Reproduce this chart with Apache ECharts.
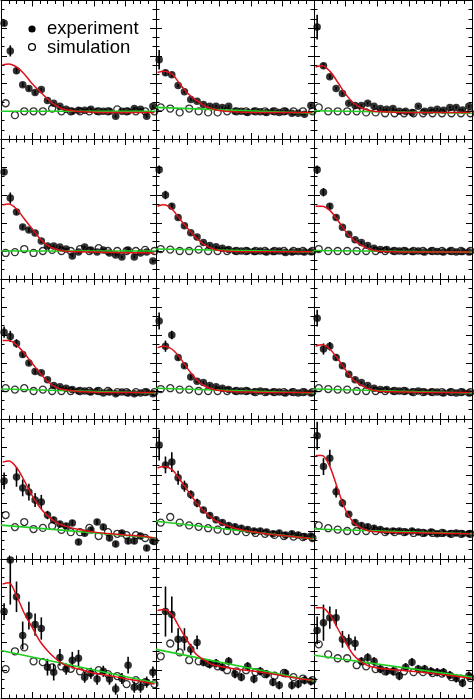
<!DOCTYPE html>
<html><head><meta charset="utf-8">
<script src="https://cdn.jsdelivr.net/npm/echarts@6/dist/echarts.min.js"></script>
<style>html,body{margin:0;padding:0;background:#fff}#c{width:474px;height:699px}</style>
</head><body><div id="c"></div>
<script>
// shared x positions
const expX = [0.1,0.3,0.5,0.7,0.9,1.1,1.3,1.5,1.7,1.9,2.1,2.3,2.5,2.7,2.9,3.1,3.3,3.5,3.7,3.9,4.1,4.3,4.5,4.7,4.9];
const simX = [0.15,0.45,0.75,1.05,1.35,1.65,1.95,2.25,2.55,2.85,3.15,3.45,3.75,4.05,4.35,4.65,4.95];
const fitX = [0.05,0.25,0.5,0.75,1.0,1.25,1.5,1.75,2.0,2.5,3.0,3.5,4.0,4.5,4.95];
const linX = [0,5];

// row 1
const exp_11 = [4.18,3.18,2.46,1.96,1.82,1.68,1.79,1.39,1.29,1.18,1.07,1.0,1.04,1.04,1.07,1.0,1.0,1.0,0.82,1.0,1.0,1.1,1.07,0.82,1.18];
const err_11 = [0.1,0.2,0.1,0.08,0.08,0.08,0.06,0.06,0.05,0.05,0.05,0.05,0.05,0.05,0.05,0.05,0.05,0.05,0.05,0.05,0.05,0.05,0.05,0.05,0.05];
const sim_11 = [1.29,0.86,1.0,1.0,1.0,1.1,1.0,1.0,1.0,1.0,1.0,1.0,1.07,1.0,1.0,1.0,1.0];
const fit_11 = [2.68,2.71,2.6,2.35,2.0,1.72,1.45,1.22,1.08,0.99,0.97,0.96,0.96,0.96,0.96];
const lin_11 = [1.0,1.0];

const exp_12 = [2.86,2.39,2.32,1.93,1.71,1.43,1.36,1.25,1.18,1.18,1.14,1.18,1.0,1.0,0.96,1.0,0.98,0.96,1.0,0.96,1.0,0.93,0.93,0.89,1.21];
const err_12 = [0.35,0.1,0.08,0.06,0.06,0.05,0.05,0.05,0.05,0.05,0.05,0.05,0.05,0.05,0.05,0.05,0.05,0.05,0.05,0.05,0.05,0.05,0.05,0.05,0.05];
const sim_12 = [1.14,1.1,0.96,1.1,1.0,0.96,0.96,1.0,1.0,1.0,1.0,1.0,1.0,1.0,1.0,1.0,1.0];
const fit_12 = [2.4,2.45,2.35,2.0,1.65,1.42,1.22,1.1,1.03,0.98,0.96,0.96,0.96,0.96,0.96];
const lin_12 = [1.14,0.93];

const exp_13 = [4.04,2.64,2.25,1.82,1.64,1.29,1.21,1.21,1.29,1.18,1.1,1.07,1.1,1.0,1.0,0.96,1.18,1.0,1.04,1.07,1.04,1.14,1.14,1.05,1.18];
const err_13 = [0.45,0.1,0.08,0.06,0.06,0.05,0.05,0.05,0.05,0.05,0.05,0.05,0.05,0.05,0.05,0.05,0.05,0.05,0.05,0.05,0.05,0.05,0.05,0.05,0.05];
const sim_13 = [1.14,1.0,1.0,1.0,1.0,0.96,0.96,0.93,0.93,0.93,0.93,0.93,0.93,0.93,0.93,0.93,0.93];
const fit_13 = [2.6,2.64,2.45,2.05,1.62,1.3,1.12,1.03,0.99,0.97,0.96,0.96,0.96,0.96,0.96];
const lin_13 = [1.02,0.93];

// row 2
const exp_21 = [3.82,2.89,2.39,1.86,1.75,1.64,1.36,1.18,1.18,1.14,1.07,0.82,0.96,1.14,1.04,0.96,1.04,0.93,0.86,0.79,1.04,0.79,0.93,0.96,0.64];
const err_21 = [0.1,0.2,0.1,0.08,0.08,0.06,0.06,0.05,0.05,0.05,0.05,0.05,0.05,0.05,0.05,0.05,0.05,0.05,0.05,0.05,0.05,0.05,0.05,0.05,0.05];
const sim_21 = [0.93,0.96,1.07,0.93,1.0,1.04,1.0,1.0,1.07,1.0,1.1,1.0,1.0,1.0,1.0,1.04,1.0];
const fit_21 = [2.64,2.68,2.5,2.15,1.8,1.45,1.2,1.07,1.0,0.97,0.96,0.95,0.94,0.94,0.93];
const lin_21 = [1.0,1.0];

const exp_22 = [3.9,3.0,2.6,2.2,1.9,1.65,1.5,1.3,1.2,1.15,1.1,1.05,1.0,1.0,1.0,0.98,1.0,0.96,0.98,1.0,0.95,0.96,0.98,0.96,0.97];
const err_22 = [0.15,0.15,0.1,0.08,0.06,0.06,0.05,0.05,0.05,0.05,0.05,0.05,0.05,0.05,0.05,0.05,0.05,0.05,0.05,0.05,0.05,0.05,0.05,0.05,0.05];
const sim_22 = [1.07,1.05,1.0,1.0,1.05,1.0,1.0,1.0,1.0,1.0,1.0,1.0,1.0,1.0,1.0,1.0,1.0];
const fit_22 = [2.6,2.65,2.5,2.15,1.8,1.5,1.25,1.1,1.02,0.98,0.97,0.97,0.97,0.97,0.97];
const lin_22 = [1.07,0.97];

const exp_23 = [3.9,3.1,2.6,2.2,1.85,1.6,1.4,1.3,1.2,1.1,1.05,1.05,1.0,1.0,1.0,0.98,1.0,0.96,1.0,0.98,0.96,1.0,0.96,0.98,0.96];
const err_23 = [0.15,0.15,0.1,0.08,0.06,0.06,0.05,0.05,0.05,0.05,0.05,0.05,0.05,0.05,0.05,0.05,0.05,0.05,0.05,0.05,0.05,0.05,0.05,0.05,0.05];
const sim_23 = [1.07,1.0,1.0,1.0,1.0,1.0,1.0,1.0,1.0,1.0,1.0,1.0,1.0,1.0,1.0,1.0,1.0];
const fit_23 = [2.6,2.6,2.45,2.1,1.7,1.4,1.2,1.07,1.0,0.97,0.96,0.96,0.96,0.96,0.96];
const lin_23 = [1.02,0.96];

// row 3
const exp_31 = [3.1,2.95,2.7,2.3,2.0,1.7,1.65,1.4,1.2,1.15,1.1,1.05,1.0,1.0,0.96,1.0,0.93,0.96,0.9,0.96,0.93,0.9,0.93,0.96,0.9];
const err_31 = [0.2,0.2,0.15,0.1,0.08,0.08,0.06,0.05,0.05,0.05,0.05,0.05,0.05,0.05,0.05,0.05,0.05,0.05,0.05,0.05,0.05,0.05,0.05,0.05,0.05];
const sim_31 = [1.1,1.05,1.1,1.0,1.05,1.0,1.0,1.0,1.0,1.0,1.0,1.0,0.96,0.96,0.96,0.96,0.96];
const fit_31 = [2.8,2.8,2.65,2.35,2.0,1.65,1.35,1.15,1.05,0.98,0.96,0.95,0.95,0.95,0.95];
const lin_31 = [1.07,0.93];

const exp_32 = [3.5,2.6,3.0,2.2,1.9,1.5,1.35,1.3,1.2,1.15,1.1,1.05,1.0,1.0,1.0,0.96,1.0,0.96,0.96,0.96,0.93,0.96,0.93,0.96,0.93];
const err_32 = [0.3,0.2,0.15,0.1,0.08,0.08,0.06,0.05,0.05,0.05,0.05,0.05,0.05,0.05,0.05,0.05,0.05,0.05,0.05,0.05,0.05,0.05,0.05,0.05,0.05];
const sim_32 = [1.07,1.1,1.05,1.05,1.0,1.0,1.0,1.0,1.0,1.0,0.96,0.96,0.96,0.96,0.96,0.96,0.96];
const fit_32 = [2.55,2.6,2.5,2.2,1.8,1.45,1.2,1.08,1.02,0.97,0.96,0.95,0.95,0.95,0.95];
const lin_32 = [1.1,0.93];

const exp_33 = [3.6,2.5,2.6,2.2,1.9,1.6,1.4,1.3,1.2,1.1,1.05,1.05,1.0,1.0,1.0,0.96,1.0,0.96,0.96,0.96,0.93,0.96,0.93,0.96,0.93];
const err_33 = [0.3,0.2,0.15,0.1,0.08,0.08,0.06,0.05,0.05,0.05,0.05,0.05,0.05,0.05,0.05,0.05,0.05,0.05,0.05,0.05,0.05,0.05,0.05,0.05,0.05];
const sim_33 = [1.1,1.07,1.05,1.05,1.0,1.0,1.0,1.0,1.0,1.0,0.96,0.96,0.96,0.96,0.96,0.96,0.96];
const fit_33 = [2.6,2.65,2.5,2.15,1.75,1.4,1.2,1.07,1.0,0.97,0.96,0.95,0.95,0.95,0.95];
const lin_33 = [1.07,0.93];

// row 4
const exp_41 = [2.79,null,2.93,2.54,2.39,2.11,2.04,1.57,1.39,1.25,1.18,1.29,0.61,0.92,1.04,1.32,1.14,0.75,0.54,0.93,0.64,0.64,0.82,0.39,0.64];
const err_41 = [0.3,0,0.35,0.3,0.3,0.25,0.25,0.15,0.12,0.1,0.1,0.1,0.1,0.1,0.1,0.1,0.1,0.1,0.1,0.1,0.1,0.1,0.1,0.1,0.1];
const sim_41 = [1.57,1.14,1.32,1.07,1.11,1.18,1.04,0.96,0.96,1.11,0.82,0.96,0.9,0.85,0.85,0.75,0.64];
const fit_41 = [3.46,3.5,3.27,2.8,2.27,1.85,1.55,1.33,1.2,1.05,0.96,0.9,0.86,0.82,0.75];
const lin_41 = [1.21,0.75];

const exp_42 = [4.07,3.36,3.46,2.9,2.6,2.3,2.0,1.75,1.55,1.4,1.3,1.2,1.15,1.1,1.05,1.0,1.0,0.96,0.9,0.93,0.86,0.9,0.86,0.8,0.82];
const err_42 = [0.55,0.3,0.35,0.25,0.2,0.15,0.15,0.1,0.1,0.1,0.1,0.1,0.1,0.1,0.1,0.1,0.1,0.1,0.1,0.1,0.1,0.1,0.1,0.1,0.1];
const sim_42 = [1.3,1.5,1.3,1.2,1.15,1.1,1.05,1.0,1.0,0.96,0.93,0.9,0.86,0.82,0.8,0.78,0.75];
const fit_42 = [3.25,3.3,3.2,2.85,2.45,2.05,1.72,1.48,1.3,1.1,0.98,0.9,0.84,0.78,0.72];
const lin_42 = [1.35,0.72];

const exp_43 = [4.4,3.3,3.6,2.4,2.0,1.6,1.3,1.2,1.15,1.1,1.05,1.0,1.0,1.0,0.96,1.0,0.96,0.93,0.96,0.9,0.93,0.9,0.93,0.9,0.9];
const err_43 = [0.5,0.3,0.3,0.2,0.15,0.1,0.1,0.1,0.1,0.1,0.1,0.1,0.1,0.1,0.1,0.1,0.1,0.1,0.1,0.1,0.1,0.1,0.1,0.1,0.1];
const sim_43 = [1.2,1.1,1.05,1.0,1.0,1.0,1.0,0.96,0.96,0.96,0.93,0.93,0.93,0.93,0.9,0.9,0.9];
const fit_43 = [3.7,3.7,3.3,2.5,1.75,1.3,1.1,1.0,0.97,0.95,0.94,0.93,0.92,0.91,0.9];
const lin_43 = [1.07,0.9];

// row 5
const exp_51 = [3.11,4.96,3.64,2.25,2.96,2.64,2.5,1.11,0.93,1.46,1.04,1.36,1.43,0.75,0.89,0.68,0.96,0.68,0.32,0.7,1.18,0.39,0.39,0.57,0.93];
const err_51 = [0.3,1.6,0.55,0.5,0.5,0.4,0.4,0.3,0.3,0.3,0.2,0.3,0.3,0.2,0.2,0.2,0.2,0.2,0.2,0.2,0.3,0.2,0.2,0.2,0.2];
const sim_51 = [1.04,1.68,1.82,1.32,1.29,1.1,1.14,1.05,0.96,0.93,1.0,0.86,0.79,0.5,0.64,0.57,0.5];
const fit_51 = [4.1,4.15,3.68,3.05,2.55,2.05,1.7,1.43,1.22,1.04,0.89,0.8,0.7,0.6,0.5];
const lin_51 = [1.71,0.54];

const exp_52 = [null,3.11,3.0,2.11,2.11,1.75,2.0,1.29,1.21,1.25,1.11,1.32,0.86,0.75,1.14,0.68,0.96,0.86,0.57,0.46,0.89,0.46,0.5,0.64,0.6];
const err_52 = [0,0.9,0.65,0.4,0.4,0.2,0.25,0.15,0.15,0.15,0.15,0.15,0.15,0.15,0.15,0.15,0.15,0.15,0.15,0.15,0.15,0.15,0.15,0.15,0.15];
const sim_52 = [1.5,1.96,1.64,1.36,1.32,1.25,1.14,1.0,0.96,1.0,0.93,0.86,0.8,0.9,0.75,0.7,0.64];
const fit_52 = [3.15,3.18,3.0,2.52,2.05,1.6,1.38,1.22,1.14,1.04,0.98,0.9,0.8,0.7,0.64];
const lin_52 = [1.75,0.61];

const exp_53 = [2.43,2.71,2.89,2.89,2.11,2.04,1.96,1.32,1.46,1.32,1.04,0.96,0.96,0.79,1.11,1.29,1.04,1.04,0.96,0.93,0.93,0.82,0.71,0.54,0.8];
const err_53 = [0.5,0.65,0.4,0.3,0.3,0.25,0.25,0.15,0.15,0.15,0.15,0.15,0.15,0.15,0.15,0.15,0.15,0.15,0.15,0.15,0.15,0.15,0.15,0.15,0.15];
const sim_53 = [1.93,1.57,1.43,1.43,1.18,1.14,1.04,0.96,0.96,0.96,0.93,0.93,0.9,0.88,0.75,0.7,0.72];
const fit_53 = [3.25,3.25,3.0,2.5,2.0,1.55,1.3,1.14,1.08,1.02,0.97,0.92,0.85,0.78,0.71];
const lin_53 = [1.54,0.75];

const panels = [
  [exp_11,err_11,sim_11,fit_11,lin_11],[exp_12,err_12,sim_12,fit_12,lin_12],[exp_13,err_13,sim_13,fit_13,lin_13],
  [exp_21,err_21,sim_21,fit_21,lin_21],[exp_22,err_22,sim_22,fit_22,lin_22],[exp_23,err_23,sim_23,fit_23,lin_23],
  [exp_31,err_31,sim_31,fit_31,lin_31],[exp_32,err_32,sim_32,fit_32,lin_32],[exp_33,err_33,sim_33,fit_33,lin_33],
  [exp_41,err_41,sim_41,fit_41,lin_41],[exp_42,err_42,sim_42,fit_42,lin_42],[exp_43,err_43,sim_43,fit_43,lin_43],
  [exp_51,err_51,sim_51,fit_51,lin_51],[exp_52,err_52,sim_52,fit_52,lin_52],[exp_53,err_53,sim_53,fit_53,lin_53]
];
const legendNames = ['experiment','simulation'];

const colL = [1,156,314], colW = [155,158,158];
const rowT = [0.5,139,279,419,559], rowH = [138.5,140,140,140,139];

const grids = [], xAxes = [], yAxes = [], series = [];
function axisBase(extra){
  return Object.assign({
    type:'value', min:0, max:5, interval:1,
    axisLine:{show:true,onZero:false,lineStyle:{color:'#000',width:1}},
    axisTick:{show:true,inside:true,length:6,lineStyle:{color:'#000',width:1}},
    axisLabel:{show:false}, splitLine:{show:false}, minorSplitLine:{show:false}
  }, extra);
}
panels.forEach((p,i)=>{
  const r = Math.floor(i/3), c = i%3;
  grids.push({left:colL[c], top:rowT[r], width:colW[c], height:rowH[r], containLabel:false});
  xAxes.push(axisBase({gridIndex:i, position:'bottom', minorTick:{show:true,splitNumber:4,length:3.5,lineStyle:{color:'#000'}}}));
  xAxes.push(axisBase({gridIndex:i, position:'top', minorTick:{show:true,splitNumber:4,length:3.5,lineStyle:{color:'#000'}}}));
  yAxes.push(axisBase({gridIndex:i, position:'left', minorTick:{show:true,splitNumber:3,length:3.5,lineStyle:{color:'#000'}}}));
  yAxes.push(axisBase({gridIndex:i, position:'right', minorTick:{show:true,splitNumber:3,length:3.5,lineStyle:{color:'#000'}}}));
  const xi = 2*i, yi = 2*i;
  const [ex,er,sm,ft,ln] = p;
  // error bars
  series.push({
    type:'custom', xAxisIndex:xi, yAxisIndex:yi, silent:true, z:2,
    data: expX.map((x,k)=> ex[k]==null ? null : [x, ex[k], er[k]]).filter(d=>d),
    renderItem:(params,api)=>{
      const x=api.value(0), y=api.value(1), e=api.value(2);
      const lo=Math.max(0,y-e), hi=Math.min(5,y+e);
      const a=api.coord([x,lo]), b=api.coord([x,hi]);
      return {type:'line', shape:{x1:a[0],y1:a[1],x2:b[0],y2:b[1]}, style:{stroke:'#000',lineWidth:1.6}};
    }
  });
  series.push({
    name:legendNames[0], type:'scatter', xAxisIndex:xi, yAxisIndex:yi, z:3, clip:false,
    symbol:'circle', symbolSize:7.5, itemStyle:{color:'#000'},
    data: expX.map((x,k)=> ex[k]==null ? null : [x, ex[k]]).filter(d=>d)
  });
  series.push({
    name:legendNames[1], type:'scatter', xAxisIndex:xi, yAxisIndex:yi, z:3, clip:false,
    symbol:'circle', symbolSize:7, itemStyle:{color:'rgba(255,255,255,0)',borderColor:'#000',borderWidth:1.3},
    data: simX.map((x,k)=>[x, sm[k]])
  });
  series.push({
    type:'line', xAxisIndex:xi, yAxisIndex:yi, z:4, showSymbol:false, symbol:'none',
    lineStyle:{color:'#1fcf1f',width:1.6}, data: linX.map((x,k)=>[x, ln[k]])
  });
  series.push({
    type:'line', xAxisIndex:xi, yAxisIndex:yi, z:5, showSymbol:false, symbol:'none', smooth:0.35,
    lineStyle:{color:'#e01018',width:1.5}, data: fitX.map((x,k)=>[x, ft[k]])
  });
});

const chart = echarts.init(document.getElementById('c'), null, {renderer:'canvas'});
chart.setOption({
  animation:false, backgroundColor:'#fff',
  grid:grids, xAxis:xAxes, yAxis:yAxes, series:series,
  graphic:[
    {type:'circle', shape:{cx:32, cy:29, r:3.6}, style:{fill:'#000'}, z:10},
    {type:'circle', shape:{cx:32, cy:47, r:3.4}, style:{fill:'#fff', stroke:'#000', lineWidth:1.3}, z:10},
    {type:'text', left:47, top:19, style:{text:legendNames[0], fontFamily:'Liberation Sans, Arial, sans-serif', fontSize:18.5, fill:'#000'}, z:10},
    {type:'text', left:47, top:38, style:{text:legendNames[1], fontFamily:'Liberation Sans, Arial, sans-serif', fontSize:18.5, fill:'#000'}, z:10}
  ]
});
</script></body></html>
